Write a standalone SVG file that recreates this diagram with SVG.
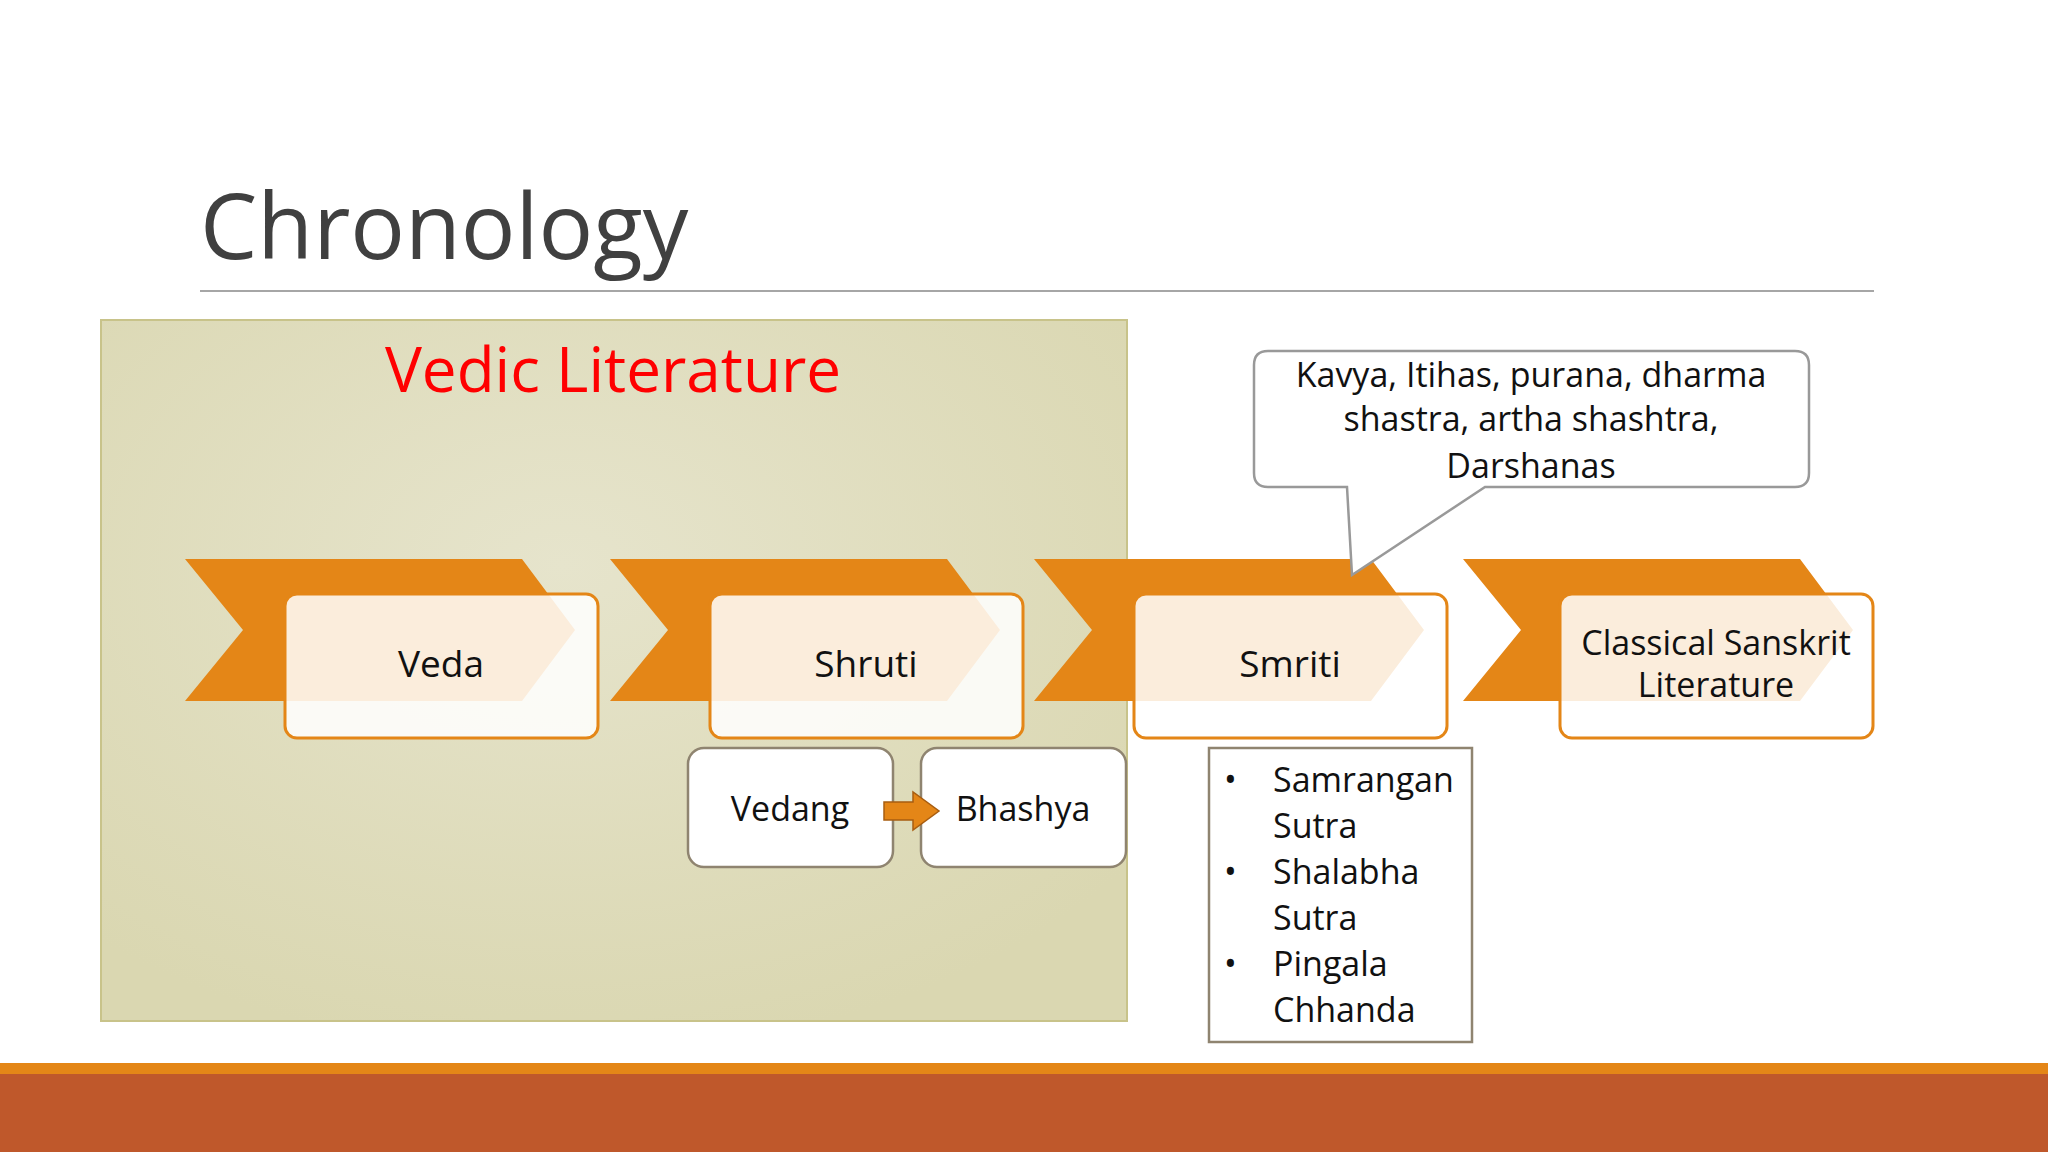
<svg xmlns="http://www.w3.org/2000/svg" width="2048" height="1152" viewBox="0 0 2048 1152">
<defs>
<style>
text{font-family:"Open Sans","Liberation Sans",sans-serif;fill:#111}
.chev{fill:#e48617}
.card{fill:#fff;fill-opacity:0.85;stroke:#e48617;stroke-width:3}
.lbl{font-size:37px;text-anchor:middle}
.sub{fill:#fff;stroke:#8f8470;stroke-width:2.5}
.co{font-size:34px;text-anchor:middle}
.li{font-size:34px}
</style>
<radialGradient id="bg" cx="0.45" cy="0.35" r="0.7"><stop offset="0" stop-color="#e6e4cc"/><stop offset="1" stop-color="#dad7b1"/></radialGradient>
</defs>
<rect width="2048" height="1152" fill="#fff"/>
<text x="200" y="259" style="font-size:91px;fill:#404040">Chronology</text>
<line x1="200" y1="291" x2="1874" y2="291" stroke="#a6a6a6" stroke-width="2"/>
<g id="vedic">
<rect x="101" y="320" width="1026" height="701" fill="url(#bg)" stroke="#c8c38a" stroke-width="2"/>
<text x="613" y="392" style="font-size:62px;fill:#ff0000;text-anchor:middle">Vedic Literature</text>
</g>
<g id="veda">
<polygon class="chev" points="185,559 522,559 575,630 522,701 185,701 243,630"/>
<rect class="card" x="285" y="594" width="313" height="144" rx="12"/>
<text class="lbl" x="441" y="677">Veda</text>
</g>
<g id="shruti">
<polygon class="chev" points="610,559 947,559 1000,630 947,701 610,701 668,630"/>
<rect class="card" x="710" y="594" width="313" height="144" rx="12"/>
<text class="lbl" x="866" y="677">Shruti</text>
</g>
<g id="smriti">
<polygon class="chev" points="1034,559 1371,559 1424,630 1371,701 1034,701 1092,630"/>
<rect class="card" x="1134" y="594" width="313" height="144" rx="12"/>
<text class="lbl" x="1290" y="677">Smriti</text>
</g>
<g id="classical">
<polygon class="chev" points="1463,559 1800,559 1853,630 1800,701 1463,701 1521,630"/>
<rect class="card" x="1560" y="594" width="313" height="144" rx="12"/>
<text class="lbl" x="1716" y="655" style="font-size:34px">Classical Sanskrit</text>
<text class="lbl" x="1716" y="697" style="font-size:34px">Literature</text>
</g>
<g id="vedang">
<rect class="sub" x="688" y="748" width="205" height="119" rx="16"/>
<text class="lbl" x="790" y="821" style="font-size:34px">Vedang</text>
</g>
<g id="bhashya">
<rect class="sub" x="921" y="748" width="205" height="119" rx="16"/>
<text class="lbl" x="1023" y="821" style="font-size:34px">Bhashya</text>
</g>
<g id="connectors">
<polygon points="884,802 913,802 913,792 939,811 913,830 913,820 884,820" fill="#e48617" stroke="#a85d10" stroke-width="1.5"/>
</g>
<g id="callout">
<path d="M1268,351 H1795 Q1809,351 1809,365 V473 Q1809,487 1795,487 H1485 L1352,575 L1347,487 H1268 Q1254,487 1254,473 V365 Q1254,351 1268,351 Z" fill="#fff" stroke="#999" stroke-width="2.5"/>
<text class="co" x="1531" y="387">Kavya, Itihas, purana, dharma</text>
<text class="co" x="1531" y="431">shastra, artha shashtra,</text>
<text class="co" x="1531" y="478">Darshanas</text>
</g>
<g id="list">
<rect x="1209" y="748" width="263" height="294" fill="#fff" stroke="#8f8470" stroke-width="2.5"/>
<text class="li" x="1224" y="792">•</text>
<text class="li" x="1273" y="792">Samrangan</text>
<text class="li" x="1273" y="838">Sutra</text>
<text class="li" x="1224" y="884">•</text>
<text class="li" x="1273" y="884">Shalabha</text>
<text class="li" x="1273" y="930">Sutra</text>
<text class="li" x="1224" y="976">•</text>
<text class="li" x="1273" y="976">Pingala</text>
<text class="li" x="1273" y="1022">Chhanda</text>
</g>
<rect x="0" y="1063" width="2048" height="11" fill="#e48617"/>
<rect x="0" y="1074" width="2048" height="78" fill="#bf582b"/>
</svg>
